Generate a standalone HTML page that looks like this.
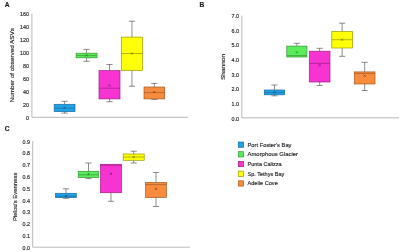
<!DOCTYPE html><html><head><meta charset="utf-8"><title>Figure</title>
<style>html,body{margin:0;padding:0;background:#fff}svg{display:block}text{font-family:"Liberation Sans", sans-serif;fill:#1c1c22;stroke:#1c1c22;stroke-width:0.14px}</style></head><body>
<svg width="400" height="252" viewBox="0 0 400 252">
<rect width="400" height="252" fill="#fff"/>
<text x="4.8" y="6.9" font-size="6.6" font-weight="bold" fill="#111">A</text>
<path d="M31.9 13.5V117.3H188" stroke="#bababa" stroke-width="1" fill="none"/>
<text x="28.9" y="15.78" font-size="5.4" text-anchor="end">160</text>
<text x="28.9" y="28.78" font-size="5.4" text-anchor="end">140</text>
<text x="28.9" y="41.78" font-size="5.4" text-anchor="end">120</text>
<text x="28.9" y="54.78" font-size="5.4" text-anchor="end">100</text>
<text x="28.9" y="67.78" font-size="5.4" text-anchor="end">80</text>
<text x="28.9" y="80.78" font-size="5.4" text-anchor="end">60</text>
<text x="28.9" y="93.78" font-size="5.4" text-anchor="end">40</text>
<text x="28.9" y="106.78" font-size="5.4" text-anchor="end">20</text>
<text x="28.9" y="119.78" font-size="5.4" text-anchor="end">0</text>
<text transform="translate(14.1 65.2) rotate(-90)" font-size="5.6" text-anchor="middle" textLength="74" lengthAdjust="spacingAndGlyphs">Number of observed ASVs</text>
<path d="M64.60 104.30V101.30M61.50 101.30H67.70" stroke="#505050" stroke-width="0.65" fill="none"/><path d="M64.60 111.60V113.10M61.50 113.10H67.70" stroke="#505050" stroke-width="0.65" fill="none"/><rect x="54.20" y="104.30" width="20.80" height="7.30" fill="#22a2e8" stroke="#176a9c" stroke-width="0.7"/><path d="M54.20 108.20H75.00" stroke="#176a9c" stroke-width="0.7"/><path d="M63.55 106.55L65.65 108.65M63.55 108.65L65.65 106.55" stroke="#0d4468" stroke-width="0.55" fill="none"/>
<path d="M86.55 53.20V49.40M83.45 49.40H89.65" stroke="#505050" stroke-width="0.65" fill="none"/><path d="M86.55 57.80V61.30M83.45 61.30H89.65" stroke="#505050" stroke-width="0.65" fill="none"/><rect x="76.10" y="53.20" width="20.90" height="4.60" fill="#5aec5a" stroke="#379237" stroke-width="0.7"/><path d="M76.10 55.60H97.00" stroke="#379237" stroke-width="0.7"/><path d="M85.50 54.35L87.60 56.45M85.50 56.45L87.60 54.35" stroke="#1b5e1b" stroke-width="0.55" fill="none"/>
<path d="M109.50 70.60V64.50M106.40 64.50H112.60" stroke="#505050" stroke-width="0.65" fill="none"/><path d="M109.50 98.90V101.70M106.40 101.70H112.60" stroke="#505050" stroke-width="0.65" fill="none"/><rect x="99.00" y="70.60" width="21.00" height="28.30" fill="#f733d2" stroke="#9c2084" stroke-width="0.7"/><path d="M99.00 88.20H120.00" stroke="#9c2084" stroke-width="0.7"/><path d="M108.45 84.45L110.55 86.55M108.45 86.55L110.55 84.45" stroke="#5e1250" stroke-width="0.55" fill="none"/>
<path d="M131.95 37.10V21.20M128.85 21.20H135.05" stroke="#505050" stroke-width="0.65" fill="none"/><path d="M131.95 70.50V86.20M128.85 86.20H135.05" stroke="#505050" stroke-width="0.65" fill="none"/><rect x="121.40" y="37.10" width="21.10" height="33.40" fill="#ffff0a" stroke="#9a9a00" stroke-width="0.7"/><path d="M121.40 53.50H142.50" stroke="#9a9a00" stroke-width="0.7"/><path d="M130.90 52.45L133.00 54.55M130.90 54.55L133.00 52.45" stroke="#5a5a00" stroke-width="0.55" fill="none"/>
<path d="M154.35 87.00V83.50M151.25 83.50H157.45" stroke="#505050" stroke-width="0.65" fill="none"/><path d="M154.35 98.90V99.40M151.25 99.40H157.45" stroke="#505050" stroke-width="0.65" fill="none"/><rect x="144.00" y="87.00" width="20.70" height="11.90" fill="#f78c3e" stroke="#a35a26" stroke-width="0.7"/><path d="M144.00 92.60H164.70" stroke="#a35a26" stroke-width="0.7"/><path d="M153.30 90.95L155.40 93.05M153.30 93.05L155.40 90.95" stroke="#633414" stroke-width="0.55" fill="none"/>
<text x="199.4" y="6.7" font-size="6.6" font-weight="bold" fill="#111">B</text>
<path d="M241.8 15.5V117.8H399" stroke="#bababa" stroke-width="1" fill="none"/>
<text x="239" y="18.03" font-size="5.4" text-anchor="end">7.0</text>
<text x="239" y="32.67" font-size="5.4" text-anchor="end">6.0</text>
<text x="239" y="47.31" font-size="5.4" text-anchor="end">5.0</text>
<text x="239" y="61.95" font-size="5.4" text-anchor="end">4.0</text>
<text x="239" y="76.59" font-size="5.4" text-anchor="end">3.0</text>
<text x="239" y="91.23" font-size="5.4" text-anchor="end">2.0</text>
<text x="239" y="105.87" font-size="5.4" text-anchor="end">1.0</text>
<text x="239" y="120.51" font-size="5.4" text-anchor="end">0.0</text>
<text transform="translate(225.2 67) rotate(-90)" font-size="5.6" text-anchor="middle" textLength="26" lengthAdjust="spacingAndGlyphs">Shannon</text>
<path d="M274.45 90.00V85.00M271.35 85.00H277.55" stroke="#505050" stroke-width="0.65" fill="none"/><path d="M274.45 94.80V95.80M271.35 95.80H277.55" stroke="#505050" stroke-width="0.65" fill="none"/><rect x="264.30" y="90.00" width="20.30" height="4.80" fill="#22a2e8" stroke="#176a9c" stroke-width="0.7"/><path d="M264.30 92.60H284.60" stroke="#176a9c" stroke-width="0.7"/><path d="M273.40 91.15L275.50 93.25M273.40 93.25L275.50 91.15" stroke="#0d4468" stroke-width="0.55" fill="none"/>
<path d="M296.85 46.10V43.30M293.75 43.30H299.95" stroke="#505050" stroke-width="0.65" fill="none"/><rect x="286.80" y="46.10" width="20.10" height="10.90" fill="#5aec5a" stroke="#379237" stroke-width="0.7"/><path d="M286.80 55.60H306.90" stroke="#379237" stroke-width="0.7"/><path d="M295.80 51.35L297.90 53.45M295.80 53.45L297.90 51.35" stroke="#1b5e1b" stroke-width="0.55" fill="none"/>
<path d="M319.65 51.20V48.30M316.55 48.30H322.75" stroke="#505050" stroke-width="0.65" fill="none"/><path d="M319.65 82.00V85.50M316.55 85.50H322.75" stroke="#505050" stroke-width="0.65" fill="none"/><rect x="309.30" y="51.20" width="20.70" height="30.80" fill="#f733d2" stroke="#9c2084" stroke-width="0.7"/><path d="M309.30 63.40H330.00" stroke="#9c2084" stroke-width="0.7"/><path d="M318.60 64.15L320.70 66.25M318.60 66.25L320.70 64.15" stroke="#5e1250" stroke-width="0.55" fill="none"/>
<path d="M342.15 31.50V23.20M339.05 23.20H345.25" stroke="#505050" stroke-width="0.65" fill="none"/><path d="M342.15 48.00V56.30M339.05 56.30H345.25" stroke="#505050" stroke-width="0.65" fill="none"/><rect x="331.80" y="31.50" width="20.70" height="16.50" fill="#ffff0a" stroke="#9a9a00" stroke-width="0.7"/><path d="M331.80 39.70H352.50" stroke="#9a9a00" stroke-width="0.7"/><path d="M341.10 38.65L343.20 40.75M341.10 40.75L343.20 38.65" stroke="#5a5a00" stroke-width="0.55" fill="none"/>
<path d="M364.65 71.90V62.40M361.55 62.40H367.75" stroke="#505050" stroke-width="0.65" fill="none"/><path d="M364.65 84.00V90.50M361.55 90.50H367.75" stroke="#505050" stroke-width="0.65" fill="none"/><rect x="354.30" y="71.90" width="20.70" height="12.10" fill="#f78c3e" stroke="#a35a26" stroke-width="0.7"/><path d="M354.30 73.40H375.00" stroke="#a35a26" stroke-width="0.7"/><path d="M363.60 74.65L365.70 76.75M363.60 76.75L365.70 74.65" stroke="#633414" stroke-width="0.55" fill="none"/>
<text x="4.8" y="130.6" font-size="6.6" font-weight="bold" fill="#111">C</text>
<path d="M32.7 141V247.2H190" stroke="#bababa" stroke-width="1" fill="none"/>
<text x="30" y="143.63" font-size="5.4" text-anchor="end">0.9</text>
<text x="30" y="155.42" font-size="5.4" text-anchor="end">0.8</text>
<text x="30" y="167.21" font-size="5.4" text-anchor="end">0.7</text>
<text x="30" y="179.00" font-size="5.4" text-anchor="end">0.6</text>
<text x="30" y="190.79" font-size="5.4" text-anchor="end">0.5</text>
<text x="30" y="202.58" font-size="5.4" text-anchor="end">0.4</text>
<text x="30" y="214.37" font-size="5.4" text-anchor="end">0.3</text>
<text x="30" y="226.16" font-size="5.4" text-anchor="end">0.2</text>
<text x="30" y="237.95" font-size="5.4" text-anchor="end">0.1</text>
<text x="30" y="249.74" font-size="5.4" text-anchor="end">0.0</text>
<text transform="translate(16.6 196.8) rotate(-90)" font-size="5.6" text-anchor="middle" textLength="48.5" lengthAdjust="spacingAndGlyphs">Pielou's Evenness</text>
<path d="M65.95 193.30V188.80M62.85 188.80H69.05" stroke="#505050" stroke-width="0.65" fill="none"/><path d="M65.95 197.50V198.30M62.85 198.30H69.05" stroke="#505050" stroke-width="0.65" fill="none"/><rect x="55.60" y="193.30" width="20.70" height="4.20" fill="#22a2e8" stroke="#176a9c" stroke-width="0.7"/><path d="M55.60 196.20H76.30" stroke="#176a9c" stroke-width="0.7"/><path d="M64.90 194.95L67.00 197.05M64.90 197.05L67.00 194.95" stroke="#0d4468" stroke-width="0.55" fill="none"/>
<path d="M88.50 171.30V163.00M85.40 163.00H91.60" stroke="#505050" stroke-width="0.65" fill="none"/><path d="M88.50 177.50V178.60M85.40 178.60H91.60" stroke="#505050" stroke-width="0.65" fill="none"/><rect x="78.20" y="171.30" width="20.60" height="6.20" fill="#5aec5a" stroke="#379237" stroke-width="0.7"/><path d="M78.20 174.80H98.80" stroke="#379237" stroke-width="0.7"/><path d="M87.45 172.75L89.55 174.85M87.45 174.85L89.55 172.75" stroke="#1b5e1b" stroke-width="0.55" fill="none"/>
<path d="M110.95 192.70V201.30M107.85 201.30H114.05" stroke="#505050" stroke-width="0.65" fill="none"/><rect x="100.50" y="164.30" width="20.90" height="28.40" fill="#f733d2" stroke="#9c2084" stroke-width="0.7"/><path d="M100.50 165.20H121.40" stroke="#9c2084" stroke-width="0.7"/><path d="M109.90 172.75L112.00 174.85M109.90 174.85L112.00 172.75" stroke="#5e1250" stroke-width="0.55" fill="none"/>
<path d="M133.70 154.00V151.20M130.60 151.20H136.80" stroke="#505050" stroke-width="0.65" fill="none"/><path d="M133.70 160.30V163.00M130.60 163.00H136.80" stroke="#505050" stroke-width="0.65" fill="none"/><rect x="123.20" y="154.00" width="21.00" height="6.30" fill="#ffff0a" stroke="#9a9a00" stroke-width="0.7"/><path d="M123.20 157.00H144.20" stroke="#9a9a00" stroke-width="0.7"/><path d="M132.65 155.95L134.75 158.05M132.65 158.05L134.75 155.95" stroke="#5a5a00" stroke-width="0.55" fill="none"/>
<path d="M156.00 182.50V172.50M152.90 172.50H159.10" stroke="#505050" stroke-width="0.65" fill="none"/><path d="M156.00 197.50V206.50M152.90 206.50H159.10" stroke="#505050" stroke-width="0.65" fill="none"/><rect x="145.50" y="182.50" width="21.00" height="15.00" fill="#f78c3e" stroke="#a35a26" stroke-width="0.7"/><path d="M145.50 184.60H166.50" stroke="#a35a26" stroke-width="0.7"/><path d="M154.95 187.75L157.05 189.85M154.95 189.85L157.05 187.75" stroke="#633414" stroke-width="0.55" fill="none"/>
<rect x="238.3" y="142.00" width="5.3" height="5.3" fill="#22a2e8" stroke="#176a9c" stroke-width="0.7"/>
<text x="247.5" y="146.55" font-size="5.9" textLength="44.0" lengthAdjust="spacingAndGlyphs">Port Foster's Bay</text>
<rect x="238.3" y="151.70" width="5.3" height="5.3" fill="#5aec5a" stroke="#379237" stroke-width="0.7"/>
<text x="247.5" y="156.25" font-size="5.9" textLength="50.5" lengthAdjust="spacingAndGlyphs">Amorphous Glacier</text>
<rect x="238.3" y="161.40" width="5.3" height="5.3" fill="#f733d2" stroke="#9c2084" stroke-width="0.7"/>
<text x="247.5" y="165.95" font-size="5.9" textLength="34.2" lengthAdjust="spacingAndGlyphs">Punta Calizza</text>
<rect x="238.3" y="171.10" width="5.3" height="5.3" fill="#ffff0a" stroke="#9a9a00" stroke-width="0.7"/>
<text x="247.5" y="175.65" font-size="5.9" textLength="36.8" lengthAdjust="spacingAndGlyphs">Sp. Tethys Bay</text>
<rect x="238.3" y="180.80" width="5.3" height="5.3" fill="#f78c3e" stroke="#a35a26" stroke-width="0.7"/>
<text x="247.5" y="185.35" font-size="5.9" textLength="30.3" lengthAdjust="spacingAndGlyphs">Adelie Cove</text>
</svg></body></html>
